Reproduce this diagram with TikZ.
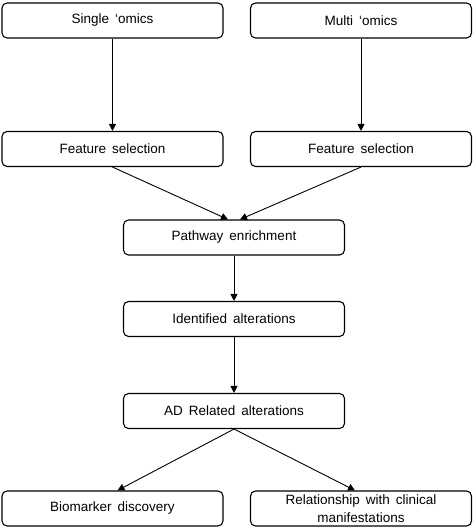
\documentclass[tikz,border=0pt]{standalone}
\usepackage{fontspec}
\setmainfont[WordSpace={1.6,1,1}]{Liberation Sans}
\usetikzlibrary{arrows.meta}

\tikzset{
  stepbox/.style={draw, rounded corners=5pt, line width=1.1pt, minimum width=221pt,
    minimum height=35pt, align=center, inner sep=0pt,
    font=\fontsize{13.5}{17.5}\selectfont},
  flow/.style={-{Triangle[length=7pt,width=7pt]}, line width=0.9pt}
}

\begin{document}
\begin{tikzpicture}[x=1pt,y=1pt]
\useasboundingbox (0,0) rectangle (474,530);
            % Boxes
\node[stepbox] (single) at (112.5,509.5) {Single ‘omics};
\node[stepbox] (multi)  at (361  ,509.5) {Multi ‘omics};
\node[stepbox] (featL)  at (112.5,381  ) {Feature selection};
\node[stepbox] (featR)  at (361  ,381  ) {Feature selection};
\node[stepbox] (path)   at (234  ,292.5) {Pathway enrichment};
\node[stepbox] (ident)  at (234  ,211  ) {Identified alterations};
\node[stepbox] (adrel)  at (234  ,119  ) {AD Related alterations};
\node[stepbox] (bio)    at (112.5,21.5 ) {Biomarker discovery};
\node[stepbox] (clin)   at (361  ,21.5 ) {Relationship with clinical\\manifestations};
%Arrows
\draw[flow] (single) -- (featL);
\draw[flow] (multi) -- (featR);
\draw[flow] (featL.south) -- ([xshift=-6pt]path.north);
\draw[flow] (featR.south) -- ([xshift=6pt]path.north);
\draw[flow] (path) -- (ident);
\draw[flow] (ident) -- (adrel);
\draw[flow] (adrel.south) -- ([xshift=5pt]bio.north);
\draw[flow] (adrel.south) -- ([xshift=-6pt]clin.north);
\end{tikzpicture}
\end{document}
